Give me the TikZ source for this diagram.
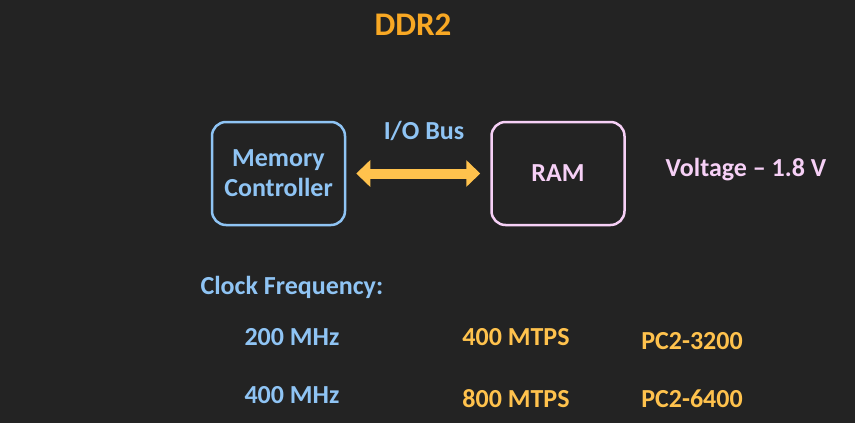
\documentclass[tikz,border=0pt]{standalone}
\usepackage{fontspec}
\setmainfont{Carlito}
\usetikzlibrary{arrows.meta}
\definecolor{bg}{HTML}{232323}
\definecolor{cblue}{HTML}{8FC4F4}
\definecolor{corange}{HTML}{FFC24D}
\definecolor{cddr}{HTML}{F8A824}
\definecolor{cpink}{HTML}{F6D0F6}
\begin{document}
\begin{tikzpicture}[x=1pt,y=-1pt,
  txt/.style={font=\fontsize{26}{30}\selectfont\bfseries},
  box/.style={draw, line width=2.5pt, rounded corners=14pt, minimum width=133pt, minimum height=103pt}]
\fill[bg] (0,0) rectangle (855,423);
\useasboundingbox (0,0) rectangle (855,423);
\node[cddr, font=\fontsize{33}{36}\selectfont\bfseries] (title) at (413,25) {DDR2};
\node[box, cblue, align=center, txt, text=cblue] (mc) at (278.5,173.5) {Memory\\Controller};
\node[box, cpink, txt, text=cpink] (ram) at (558,173.5) {RAM};
\draw[corange, line width=10pt, {Triangle[width=26pt,length=14pt]}-{Triangle[width=26pt,length=14pt]}] ([xshift=10pt]mc.east) -- ([xshift=-10pt]ram.west);
\node[txt, cblue] (bus) at (424,131) {I/O Bus};
\node[txt, cpink] (volt) at (746,170) {Voltage – 1.8 V};
\node[txt, cblue, anchor=west] (cf) at (197,287) {Clock Frequency:};
\node[txt, cblue] (f1) at (292,337) {200 MHz};
\node[txt, cblue] (f2) at (292,395) {400 MHz};
\node[txt, corange] (m1) at (516,337) {400 MTPS};
\node[txt, corange] (m2) at (516,399) {800 MTPS};
\node[txt, corange] (p1) at (692,341) {PC2-3200};
\node[txt, corange] (p2) at (692,399) {PC2-6400};
\end{tikzpicture}
\end{document}
